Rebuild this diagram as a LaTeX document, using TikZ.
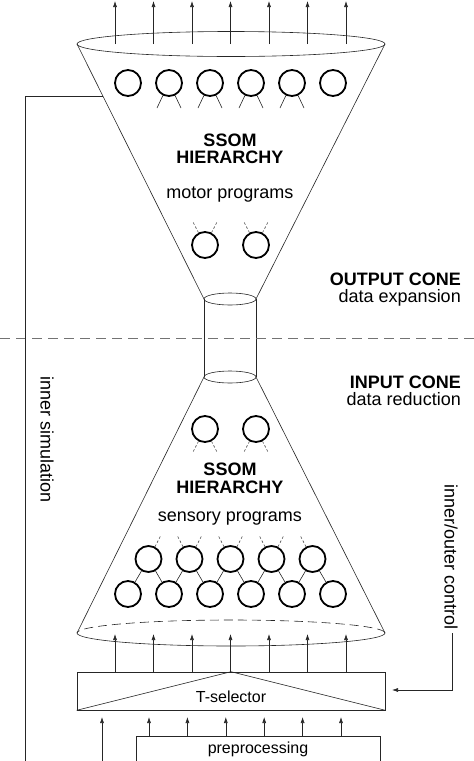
\documentclass[tikz,border=0pt]{standalone}
\usepackage{fontspec}
\setmainfont{Liberation Sans}
\usetikzlibrary{arrows.meta,calc}
\begin{document}
\begin{tikzpicture}[x=1pt,y=-1pt,
  ln/.style={line width=0.6pt, draw=black!85},
  unit/.style={circle, draw=black, line width=1.8pt, minimum size=26pt, inner sep=0pt},
  arr/.style={line width=0.6pt, draw=black!85, -{Latex[length=6pt,width=4pt]}},
  dsh/.style={line width=0.6pt, draw=black!70, dash pattern=on 2.5pt off 2pt},
  lbl/.style={font=\fontsize{18}{20}\selectfont, inner sep=0pt},
  blbl/.style={font=\fontsize{18}{20}\selectfont\bfseries, inner sep=0pt},
  slbl/.style={font=\fontsize{16}{18}\selectfont, inner sep=0pt},
  ]
\useasboundingbox (0,0) rectangle (474,761);

% ---------- output cone ----------
\coordinate (TL) at (77,44);
\coordinate (TR) at (385,44);
\coordinate (NTL) at (204,299);
\coordinate (NTR) at (256,299);
\coordinate (NBL) at (204,377);
\coordinate (NBR) at (256,377);
\coordinate (BL) at (77,633);
\coordinate (BR) at (385,633);

\draw[ln] (231,44) ellipse [x radius=154pt, y radius=12.5pt];
\draw[ln] (TL) -- (NTL);
\draw[ln] (TR) -- (NTR);

\foreach \i in {0,...,6} {
  \coordinate (ta\i) at ({115+38.5*\i},44);
  \coordinate (tb\i) at ({115+38.5*\i},1);
  \draw[arr] (ta\i) -- (tb\i);
}

\foreach \i in {1,...,6}
  \node[unit] (tc\i) at ({128+41*(\i-1)},83) {};
\foreach \i in {2,...,5} {
  \coordinate (tl\i) at ($(tc\i)+(-12,25)$);
  \coordinate (tr\i) at ($(tc\i)+(12,25)$);
  \draw[ln] (tc\i.244) -- (tl\i);
  \draw[ln] (tc\i.296) -- (tr\i);
}

\node[blbl] (ssom1) at (230,146) [anchor=base] {SSOM};
\node[blbl] (hier1) at (230,163) [anchor=base] {HIERARCHY};
\node[lbl] (motor) at (230,198) [anchor=base] {motor programs};

\foreach \i/\x in {1/205,2/256} {
  \node[unit] (mc\i) at (\x,245) {};
  \coordinate (ml\i) at (\x-12,222);
  \coordinate (mr\i) at (\x+12,222);
  \draw[dsh] (mc\i.118) -- (ml\i);
  \draw[dsh] (mc\i.62) -- (mr\i);
}

% ---------- neck ----------
\draw[ln] (230,299) ellipse [x radius=26pt, y radius=6pt];
\draw[ln] (230,377) ellipse [x radius=26pt, y radius=6pt];
\draw[ln] (NTL) -- (NBL);
\draw[ln] (NTR) -- (NBR);

% ---------- separator ----------
\coordinate (sepL) at (0,338);
\coordinate (sepR) at (474,338);
\draw[line width=0.6pt, draw=black!55, dash pattern=on 10pt off 6pt] (sepL) -- (sepR);

\node[blbl, anchor=base east] (outc) at (461,285) {OUTPUT CONE};
\node[lbl, anchor=base east] (dexp) at (461,302) {data expansion};
\node[blbl, anchor=base east] (inc) at (461,388) {INPUT CONE};
\node[lbl, anchor=base east] (dred) at (461,405) {data reduction};

% ---------- input cone ----------
\draw[ln] (NBL) -- (BL);
\draw[ln] (NBR) -- (BR);
\draw[ln, dash pattern=on 9pt off 5pt] (BR) arc[start angle=0, end angle=180, x radius=154pt, y radius=13pt];
\draw[ln] (BL) arc[start angle=180, end angle=360, x radius=154pt, y radius=13pt];

\foreach \i/\x in {1/205,2/256} {
  \node[unit] (ic\i) at (\x,429) {};
  \coordinate (il\i) at (\x-12,452);
  \coordinate (ir\i) at (\x+12,452);
  \draw[dsh] (ic\i.242) -- (il\i);
  \draw[dsh] (ic\i.298) -- (ir\i);
}

\node[blbl] (ssom2) at (230,475) [anchor=base] {SSOM};
\node[blbl] (hier2) at (230,493) [anchor=base] {HIERARCHY};
\node[lbl] (sens) at (230,521) [anchor=base] {sensory programs};

\foreach \i in {1,...,5}
  \node[unit] (ra\i) at ({148.5+41*(\i-1)},559) {};
\foreach \i in {1,...,6}
  \node[unit] (rb\i) at ({128+41*(\i-1)},594) {};
\foreach \i [evaluate=\i as \j using int(\i+1)] in {1,...,5} {
  \draw[ln] (ra\i) -- (rb\i);
  \draw[ln] (ra\i) -- (rb\j);
}
\foreach \i in {2,...,5} {
  \coordinate (ual\i) at ($(ra\i)+(-12,-23)$);
  \draw[dsh] (ra\i.118) -- (ual\i);
}
\foreach \i in {1,...,4} {
  \coordinate (uar\i) at ($(ra\i)+(12,-23)$);
  \draw[dsh] (ra\i.62) -- (uar\i);
}

% ---------- T-selector ----------
\node[draw=black!85, line width=0.6pt, minimum width=308pt, minimum height=38pt, inner sep=0pt] (ts) at (231,691) {};
\draw[ln] (ts.south west) -- (ts.north) -- (ts.south east);
\node[slbl, anchor=base] (tst) at (231,702) {T-selector};

\foreach \i in {0,...,6} {
  \coordinate (sa\i) at ({115+38.5*\i},672);
  \coordinate (sb\i) at ({115+38.5*\i},634);
  \draw[arr] (sa\i) -- (sb\i);
}

% ---------- preprocessing ----------
\coordinate (ppBL) at (136,766);
\coordinate (ppTR) at (380,736);
\coordinate (ppBR) at (380,766);
\draw[ln] (ppBL) |- (ppTR) -- (ppBR);
\node[slbl, anchor=base] (pp) at (258,753) {preprocessing};

\foreach \i in {0,...,5} {
  \coordinate (pa\i) at ({149+38.4*\i},736);
  \coordinate (pb\i) at ({149+38.4*\i},717);
  \draw[arr] (pa\i) -- (pb\i);
}
\coordinate (raw0) at (102,766);
\coordinate (raw1) at (102,717);
\draw[arr] (raw0) -- (raw1);

% ---------- inner simulation ----------
\coordinate (isJ) at ($(TL)!{(96-44)/(299-44)}!(NTL)$);
\coordinate (isB) at (25,766);
\draw[ln] (isJ) -| (isB);
\node[lbl, rotate=-90] (isim) at (47,440) {inner simulation};

% ---------- inner/outer control ----------
\node[lbl, rotate=-90] (ioc) at (451,557) {inner/outer control};
\coordinate (ctop) at (452,633);
\coordinate (ctip) at (392,690);
\draw[arr] (ctop) |- (ctip);

\end{tikzpicture}
\end{document}
